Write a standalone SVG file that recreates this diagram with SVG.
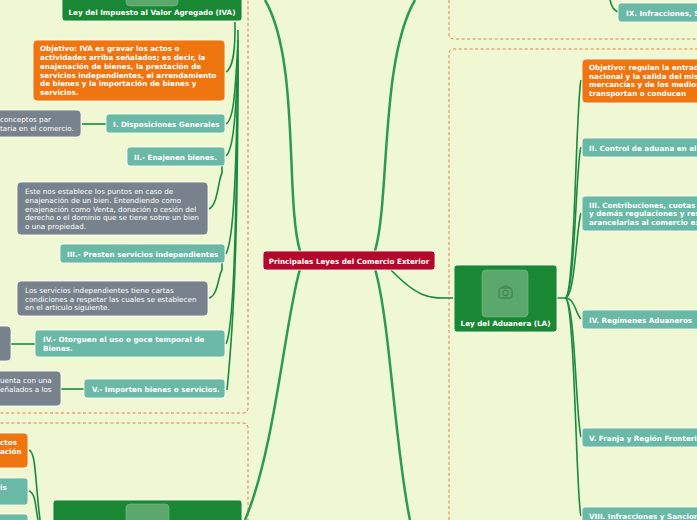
<svg xmlns="http://www.w3.org/2000/svg" width="697" height="520" viewBox="0 0 697 520">
<style>
text{font-family:"Verdana","DejaVu Sans",sans-serif;font-size:7.2px;font-weight:bold;fill:#fff}
.g text{font-weight:normal}
.teal{fill:#6ab8a6;stroke:#fff;stroke-width:0.8}
.or{fill:#ee7510;stroke:#fff;stroke-width:0.8}
.gr{fill:#78828c;stroke:#fff;stroke-width:0.8}
.dg{fill:#198734;stroke:#fff;stroke-width:0.8}
.img{fill:#5aa86c;stroke:#7bbf88;stroke-width:0.6}
.box{fill:none;stroke:#ef7a4e;stroke-width:1;stroke-dasharray:3 2.5}
.c{fill:none;stroke:#198a40;stroke-width:1.6}
.ct{fill:none;stroke:#2a9a55;stroke-width:2.5}
</style>
<rect width="697" height="520" fill="#eff8d2"/>
<g id="boundaries">
<path class="box" d="M-5,413 H243 Q248,413 248,408 V0"/>
<path class="box" d="M-5,423 H243 Q248,423 248,428 V520"/>
<path class="box" d="M449,0 V34 Q449,39 454,39 H700"/>
<path class="box" d="M449,520 V54 Q449,49 454,49 H700"/>
</g>
<g id="connectors">
<path class="ct" d="M300,251 C285,200 300,60 265,0"/>
<path class="ct" d="M375,251 C390,200 380,60 415,0"/>
<path class="ct" d="M300,269 C285,320 275,450 245,520"/>
<path class="ct" d="M375,269 C390,320 395,450 410,520"/>
<path class="c" d="M390,269 C420,300 430,298 453,298"/>
<path class="c" d="M235,22 V30 C235,60 230,70 226,72"/>
<path class="c" d="M238,30 C238,200 236,300 227,390"/>
<path class="c" d="M238,40 C235,100 233,120 226,124"/>
<path class="c" d="M238,50 C236,120 233,150 226,156"/>
<path class="c" d="M238,60 C236,190 233,240 226,254"/>
<path class="c" d="M238,70 C236,250 233,330 226,344"/>
<path class="c" d="M82,124 H106"/>
<path class="c" d="M11,344 H35"/>
<path class="c" d="M61,389 H84"/>
<path class="c" d="M222,165 V173 C218,180 218,205 209,209"/>
<path class="c" d="M222,262 V270 C218,276 218,296 209,298"/>
<path class="c" d="M29,450 C36,452 35,480 40,520"/>
<path class="c" d="M29,491 C36,494 35,505 38,520"/>
<path class="c" d="M557,298 H565 C575,298 576,100 581,80"/>
<path class="c" d="M565,298 C575,298 576,160 581,147"/>
<path class="c" d="M565,298 C575,298 576,230 581,213"/>
<path class="c" d="M565,298 C575,298 576,315 581,319"/>
<path class="c" d="M565,298 C575,298 576,420 581,437"/>
<path class="c" d="M565,298 C575,298 576,500 581,516"/>
<path class="c" d="M610,0 C612,8 614,10 618,12"/>
</g>
<g id="center"><rect x="263" y="251" width="172" height="19" rx="3" fill="#b3082b" stroke="#fff" stroke-width="0.8"/><text x="349" y="263.5" text-anchor="middle">Principales Leyes del Comercio Exterior</text></g>
<g id="iva"><rect class="dg" x="62" y="-10" width="180" height="31" rx="3"/><rect class="img" x="126" y="-8" width="52" height="14" rx="4"/><text x="152" y="15" text-anchor="middle">Ley del Impuesto al Valor Agregado (IVA)</text></g>
<g id="iva-obj"><rect class="or" x="33" y="40" width="192" height="61" rx="4"/><text x="40" y="51">Objetivo: IVA es gravar los actos o</text><text x="40" y="60">actividades arriba señalados; es decir, la</text><text x="40" y="69">enajenación de bienes, la prestación de</text><text x="40" y="77.5">servicios independientes, el arrendamiento</text><text x="40" y="86">de bienes y la importación de bienes y</text><text x="40" y="94.5">servicios.</text></g>
<g id="iva-i"><rect class="teal" x="106" y="114" width="119" height="19" rx="3"/><text x="113" y="126.5">I. Disposiciones Generales</text></g>
<g id="iva-i-n" class="g"><rect class="gr" x="-10" y="110" width="91" height="27" rx="4"/><text x="0" y="121.5">conceptos par</text><text x="0" y="130.5">taria en el comercio.</text></g>
<g id="iva-ii"><rect class="teal" x="127" y="147" width="98" height="19" rx="3"/><text x="134" y="159.5">II.- Enajenen bienes.</text></g>
<g id="iva-ii-n" class="g"><rect class="gr" x="17" y="182" width="191" height="53" rx="4"/><text x="25" y="194">Este nos establece los puntos en caso de</text><text x="25" y="203">enajenación de un bien. Entendiendo como</text><text x="25" y="211.5">enajenación como Venta, donación o cesión del</text><text x="25" y="220">derecho o el dominio que se tiene sobre un bien</text><text x="25" y="229">o una propiedad.</text></g>
<g id="iva-iii"><rect class="teal" x="60" y="244" width="165" height="19" rx="3"/><text x="67" y="256.5">III.- Presten servicios independientes</text></g>
<g id="iva-iii-n" class="g"><rect class="gr" x="17" y="281" width="191" height="35" rx="4"/><text x="25" y="293">Los servicios independientes tiene cartas</text><text x="25" y="301.5">condiciones a respetar las cuales se establecen</text><text x="25" y="310">en el articulo siguiente.</text></g>
<g id="iva-iv"><rect class="teal" x="35" y="330" width="190" height="27" rx="3"/><text x="43" y="341.5">IV.- Otorguen el uso o goce temporal de</text><text x="43" y="350.5">Bienes.</text></g>
<g id="iva-iv-n"><rect class="gr" x="-10" y="326" width="21" height="35" rx="4"/></g>
<g id="iva-v"><rect class="teal" x="84" y="379" width="141" height="19" rx="3"/><text x="92" y="391.5">V.- Importen bienes o servicios.</text></g>
<g id="iva-v-n" class="g"><rect class="gr" x="-10" y="371" width="71" height="35" rx="4"/><text x="0" y="382.5">uenta con una</text><text x="0" y="391.5">eñalados a los</text></g>
<g id="bl-or"><rect class="or" x="-10" y="433" width="38" height="35" rx="4"/><text x="0" y="445">ctos</text><text x="0" y="454">ación</text></g>
<g id="bl-t1"><rect class="teal" x="-10" y="478" width="38" height="27" rx="3"/><text x="0" y="490">is</text></g>
<g id="bl-t2"><rect class="teal" x="-10" y="514" width="38" height="20" rx="3"/></g>
<g id="bl-main"><rect class="dg" x="53" y="500" width="189" height="40" rx="3"/><rect class="img" x="126" y="504" width="43" height="30" rx="4"/></g>
<g id="la"><rect class="dg" x="454" y="265" width="103" height="67" rx="3"/><rect class="img" x="482" y="270" width="46" height="47" rx="4"/><g fill="none" stroke="#3f7a4c" stroke-width="1"><rect x="499" y="288" width="13" height="10" rx="1.5"/><circle cx="505.5" cy="293" r="2.8"/><path d="M502,288 l1.5,-2 h4 l1.5,2"/></g><text x="505.5" y="325.5" text-anchor="middle">Ley del Aduanera (LA)</text></g>
<g id="la-ix"><rect class="teal" x="618" y="3" width="90" height="19" rx="3"/><text x="626" y="15.5">IX. Infracciones, S</text></g>
<g id="la-obj"><rect class="or" x="582" y="59" width="130" height="44" rx="4"/><text x="589" y="70">Objetivo: regulan la entrada</text><text x="589" y="78.5">nacional y la salida del mism</text><text x="589" y="87">mercancías y de los medios</text><text x="589" y="95.5">transportan o conducen</text></g>
<g id="la-ii"><rect class="teal" x="582" y="138" width="130" height="19" rx="3"/><text x="589" y="150.5">II. Control de aduana en el</text></g>
<g id="la-iii"><rect class="teal" x="582" y="196" width="130" height="35" rx="3"/><text x="589" y="207.5">III. Contribuciones, cuotas</text><text x="589" y="216">y demás regulaciones y rest</text><text x="589" y="224.5">arancelarias al comercio ex</text></g>
<g id="la-iv"><rect class="teal" x="582" y="310" width="130" height="19" rx="3"/><text x="589" y="322.5">IV. Regímenes Aduaneros</text></g>
<g id="la-v"><rect class="teal" x="582" y="428" width="130" height="19" rx="3"/><text x="589" y="440.5">V. Franja y Región Fronteriz</text></g>
<g id="la-viii"><rect class="teal" x="582" y="507" width="130" height="19" rx="3"/><text x="589" y="519">VIII. Infracciones y Sancion</text></g>
</svg>
